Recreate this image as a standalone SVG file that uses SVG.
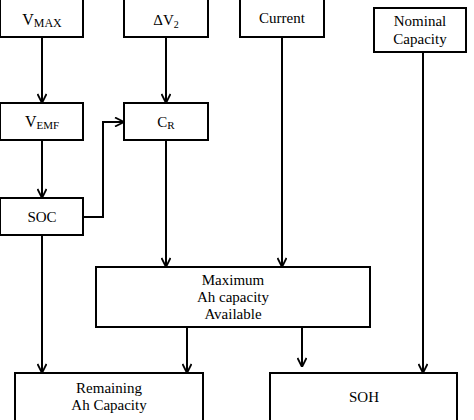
<svg xmlns="http://www.w3.org/2000/svg" width="474" height="420" viewBox="0 0 474 420">
<defs>
<marker id="ah" viewBox="0 0 10 10" refX="10" refY="5" markerWidth="10" markerHeight="10" markerUnits="userSpaceOnUse" orient="auto">
<path d="M1,0.5 L10,5 L1,9.5" fill="none" stroke="#000" stroke-width="1.8"/>
</marker>
<style>
.box{fill:#fff;stroke:#000;stroke-width:2}
.t{font-family:"Liberation Serif","Times New Roman",serif;font-size:15px;fill:#000;text-anchor:middle}
.c{fill:none;stroke:#000;stroke-width:2;marker-end:url(#ah)}
</style>
</defs>
<rect width="474" height="420" fill="#fff"/>
<g id="connectors">
<path class="c" d="M42,37 V103"/>
<path class="c" d="M166,37 V103"/>
<path class="c" d="M83,217 H103 V122 H124"/>
<path class="c" d="M42,140 V198"/>
<path class="c" d="M282,37 V267"/>
<path class="c" d="M166,140 V267"/>
<path class="c" d="M423,52 V373"/>
<path class="c" d="M42,235 V373"/>
<path class="c" d="M187,327 V373"/>
<path class="c" d="M302,327 V367"/>
</g>
<g id="vmax"><rect class="box" x="0" y="-2" width="83" height="39"/><text class="t" x="42" y="25"><tspan font-size="16">V</tspan><tspan font-size="12" dy="2">MAX</tspan></text></g>
<g id="dv2"><rect class="box" x="124" y="-2" width="84" height="39"/><text class="t" x="166" y="25">ΔV<tspan font-size="10" dy="3">2</tspan></text></g>
<g id="current"><rect class="box" x="240" y="-2" width="84" height="39"/><text class="t" x="282" y="23">Current</text></g>
<g id="nominal"><rect class="box" x="374" y="8" width="92" height="44"/><text class="t" x="420" y="26">Nominal</text><text class="t" x="420" y="44">Capacity</text></g>
<g id="vemf"><rect class="box" x="0" y="103" width="83" height="37"/><text class="t" x="42" y="127"><tspan font-size="16">V</tspan><tspan font-size="11" dy="2">EMF</tspan></text></g>
<g id="cr"><rect class="box" x="124" y="103" width="84" height="37"/><text class="t" x="166" y="127">C<tspan font-size="11" dy="2">R</tspan></text></g>
<g id="soc"><rect class="box" x="0" y="198" width="83" height="37"/><text class="t" x="42" y="222">SOC</text></g>
<g id="maxah"><rect class="box" x="96" y="267" width="274" height="60"/><text class="t" x="233" y="285">Maximum</text><text class="t" x="233" y="302">Ah capacity</text><text class="t" x="233" y="319">Available</text></g>
<g id="remaining"><rect class="box" x="15" y="373" width="188" height="52"/><text class="t" x="109" y="393">Remaining</text><text class="t" x="109" y="410">Ah Capacity</text></g>
<g id="soh"><rect class="box" x="270" y="373" width="187" height="52"/><text class="t" x="364" y="402">SOH</text></g>
</svg>
